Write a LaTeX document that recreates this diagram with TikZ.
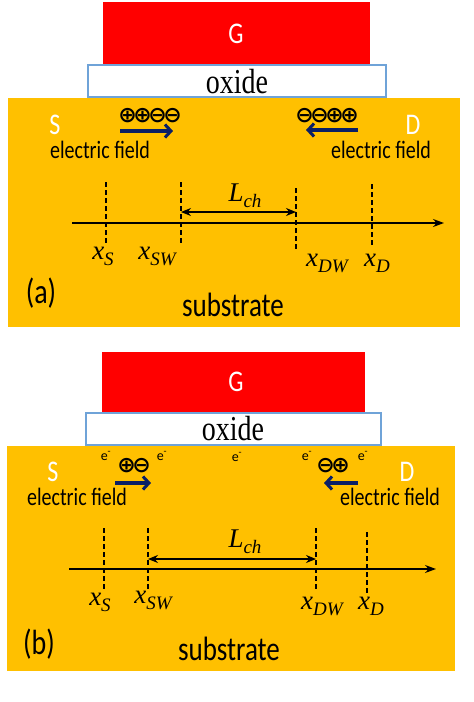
\documentclass[tikz,border=0pt]{standalone}
\usepackage{fontspec}
\setmainfont{Carlito}
\newfontfamily\oxfont{Liberation Serif}
\newfontfamily\symf{DejaVu Sans Bold}
\usetikzlibrary{arrows.meta}
\definecolor{subc}{HTML}{FFC000}
\definecolor{gatec}{HTML}{FF0000}
\definecolor{oxb}{HTML}{6FA3D8}
\definecolor{navy}{HTML}{0A1F66}
\newcommand\vs[1]{\scalebox{1}[1.25]{#1}}
\newcommand\lab[2]{{\oxfont\itshape\fontsize{27}{30}\selectfont #1\raisebox{-0.22em}{\fontsize{19}{21}\selectfont #2}}}
\newcommand\cp[1]{\makebox[15pt]{#1}}
\begin{document}
\begin{tikzpicture}[x=1pt,y=-1pt,
  gatebox/.style={fill=gatec,draw=none},
  oxbox/.style={fill=white,draw=oxb,line width=1.2pt},
  subbox/.style={fill=subc,draw=none},
  sd/.style={text=white,font=\fontsize{24}{28}\selectfont,inner sep=0pt},
  efl/.style={font=\fontsize{20}{24}\selectfont,inner sep=0pt},
  chg/.style={font=\symf\fontsize{22}{24}\selectfont,inner sep=0pt},
  field/.style={draw=navy,line width=3.6pt,-{Straight Barb[length=6pt,width=13pt,line width=3pt]}},
  dline/.style={draw=black,line width=1.4pt,dash pattern=on 5pt off 3pt},
  axis/.style={draw=black,line width=1.3pt,-{Stealth[length=11pt,width=8pt]}},
  lch/.style={draw=black,line width=1.3pt,{Stealth[length=10pt,width=8pt]}-{Stealth[length=10pt,width=8pt]}},
  mlab/.style={inner sep=0pt},
  plab/.style={font=\fontsize{28}{32}\selectfont,inner sep=0pt},
  sublab/.style={font=\fontsize{27}{32}\selectfont,inner sep=0pt},
  elab/.style={font=\fontsize{14}{16}\selectfont,inner sep=0pt}]
\useasboundingbox (0,0) rectangle (474,702);
\fill[white] (0,0) rectangle (474,702);
% ================= panel (a) =================
\path[gatebox] (103,2) rectangle (370,64);
\node[sd] (Ga) at (236,34) {\vs{G}};
\path[oxbox] (88,65) rectangle (386,97);
\node[inner sep=0pt,font=\oxfont\fontsize{28}{32}\selectfont] (oxa) at (237,82) {\vs{oxide}};
\path[subbox] (8,98) rectangle (460,327);
\node[sd] (Sa) at (55,125) {\vs{S}};
\node[sd] (Da) at (413,125) {\vs{D}};
\node[chg] (ca1) at (150,116) {\cp{⊕}\cp{⊕}\cp{⊖}\cp{⊖}};
\node[chg] (ca2) at (327,116) {\cp{⊖}\cp{⊖}\cp{⊕}\cp{⊕}};
\coordinate (fa1s) at (120,131); \coordinate (fa1e) at (173,131);
\coordinate (fa2s) at (358,130); \coordinate (fa2e) at (306,130);
\draw[field] (fa1s) -- (fa1e);
\draw[field] (fa2s) -- (fa2e);
\node[efl] (efa1) at (100,150) {\vs{electric field}};
\node[efl] (efa2) at (381,150) {\vs{electric field}};
\coordinate (xSat) at (106,182); \coordinate (xSab) at (106,243);
\coordinate (xSWat) at (181,182); \coordinate (xSWab) at (181,243);
\coordinate (xDWat) at (296,188); \coordinate (xDWab) at (296,250);
\coordinate (xDat) at (372,184); \coordinate (xDab) at (372,246);
\draw[dline] (xSat) -- (xSab);
\draw[dline] (xSWat) -- (xSWab);
\draw[dline] (xDWat) -- (xDWab);
\draw[dline] (xDat) -- (xDab);
\coordinate (axa1) at (72,223); \coordinate (axa2) at (444,223);
\draw[axis] (axa1) -- (axa2);
\coordinate (la1) at (181,212); \coordinate (la2) at (296,212);
\draw[lch] (la1) -- (la2);
\node[mlab] (Lcha) at (245,196) {\lab{L}{ch}};
\node[mlab] (lxSa) at (103,256) {\lab{x}{S}};
\node[mlab] (lxSWa) at (157,256) {\lab{x}{SW}};
\node[mlab] (lxDWa) at (327,263) {\lab{x}{DW}};
\node[mlab] (lxDa) at (377,263) {\lab{x}{D}};
\node[plab] (pa) at (41,293) {\vs{(a)}};
\node[sublab] (suba) at (233,305) {\vs{substrate}};
% ================= panel (b) =================
\path[gatebox] (102,352) rectangle (365,412);
\node[sd] (Gb) at (236,382) {\vs{G}};
\path[oxbox] (86,413) rectangle (381,445);
\node[inner sep=0pt,font=\oxfont\fontsize{28}{32}\selectfont] (oxb) at (233,429) {\vs{oxide}};
\path[subbox] (7,446) rectangle (455,671);
\node[sd] (Sb) at (53,472) {\vs{S}};
\node[sd] (Db) at (407,472) {\vs{D}};
\node[elab] (e1) at (106,456) {e\textsuperscript{-}};
\node[elab] (e2) at (162,456) {e\textsuperscript{-}};
\node[elab] (e3) at (237,457) {e\textsuperscript{-}};
\node[elab] (e4) at (307,456) {e\textsuperscript{-}};
\node[elab] (e5) at (363,456) {e\textsuperscript{-}};
\node[chg] (cb1) at (134,466) {\cp{⊕}\cp{⊖}};
\node[chg] (cb2) at (333,466) {\cp{⊖}\cp{⊕}};
\coordinate (fb1s) at (115,483); \coordinate (fb1e) at (151,483);
\coordinate (fb2s) at (358,483); \coordinate (fb2e) at (324,483);
\draw[field] (fb1s) -- (fb1e);
\draw[field] (fb2s) -- (fb2e);
\node[efl] (efb1) at (77,497) {\vs{electric field}};
\node[efl] (efb2) at (390,497) {\vs{electric field}};
\coordinate (xSbt) at (104,528); \coordinate (xSbb) at (104,589);
\coordinate (xSWbt) at (148,528); \coordinate (xSWbb) at (148,590);
\coordinate (xDWbt) at (316,528); \coordinate (xDWbb) at (316,590);
\coordinate (xDbt) at (367,532); \coordinate (xDbb) at (367,593);
\draw[dline] (xSbt) -- (xSbb);
\draw[dline] (xSWbt) -- (xSWbb);
\draw[dline] (xDWbt) -- (xDWbb);
\draw[dline] (xDbt) -- (xDbb);
\coordinate (axb1) at (69,569); \coordinate (axb2) at (436,569);
\draw[axis] (axb1) -- (axb2);
\coordinate (lb1) at (148,559); \coordinate (lb2) at (316,559);
\draw[lch] (lb1) -- (lb2);
\node[mlab] (Lchb) at (245,542) {\lab{L}{ch}};
\node[mlab] (lxSb) at (100,602) {\lab{x}{S}};
\node[mlab] (lxSWb) at (153,600) {\lab{x}{SW}};
\node[mlab] (lxDWb) at (322,606) {\lab{x}{DW}};
\node[mlab] (lxDb) at (371,606) {\lab{x}{D}};
\node[plab] (pb) at (39,644) {\vs{(b)}};
\node[sublab] (subb) at (229,649) {\vs{substrate}};
\end{tikzpicture}
\end{document}
